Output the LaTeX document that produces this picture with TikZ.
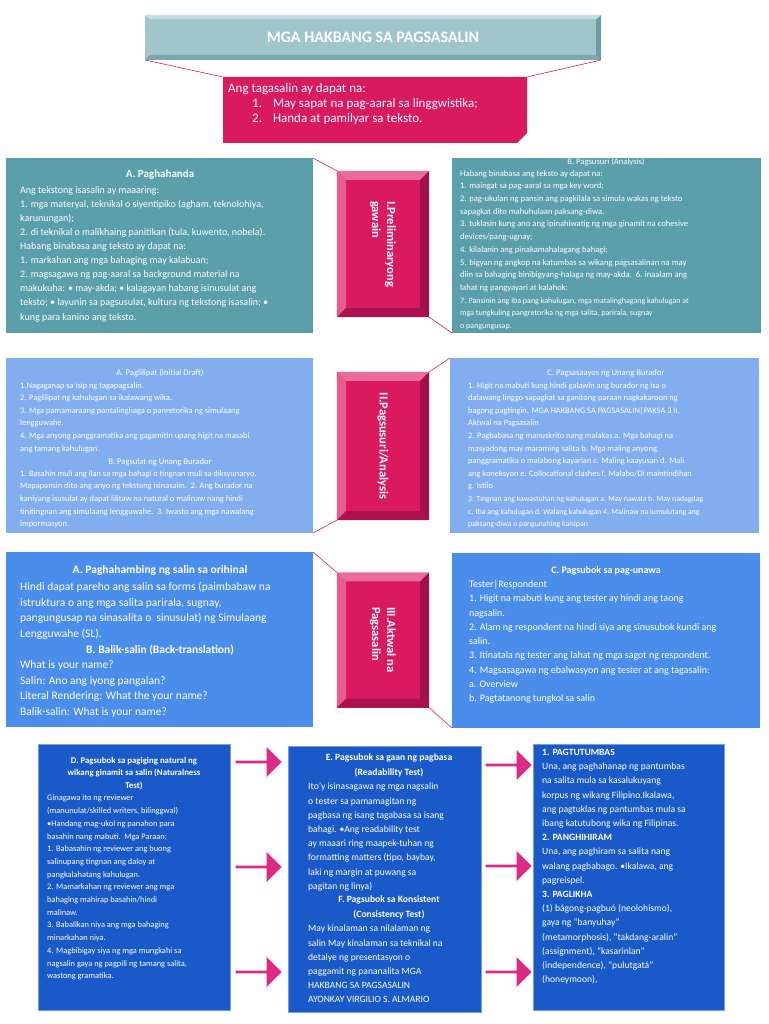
\documentclass[tikz,border=0pt]{standalone}
\usepackage{fontspec}
\setmainfont{Carlito}
\usetikzlibrary{shapes.arrows}
\definecolor{tealbox}{HTML}{5A9FAA}
\definecolor{titlec}{HTML}{A0C6CC}
\definecolor{titled}{HTML}{6E9AA2}
\definecolor{pinkc}{HTML}{DA1A5F}
\definecolor{pinkl}{HTML}{EA6C98}
\definecolor{pinkd}{HTML}{A0104A}
\definecolor{rowtwo}{HTML}{82AEF0}
\definecolor{rowthree}{HTML}{4B8DEA}
\definecolor{rowfour}{HTML}{1A5AC8}
\definecolor{arrowc}{HTML}{DD2A85}
\tikzset{
  panel/.style={anchor=north west, inner sep=0pt, outer sep=0pt},
  txt/.style={anchor=north west, inner sep=0pt, align=left, text=white},
  hd/.style={anchor=north, inner sep=0pt, align=center, text=white, font=#1},
  conn/.style={draw=pinkc, line width=0.6pt},
  pinkbox/.style={minimum width=92pt, inner sep=0pt, fill=pinkc},
  vtext/.style={rotate=-90, text=white, align=left, font={\fontsize{12.5}{15}\selectfont\bfseries}},
  arr/.style={single arrow, fill=arrowc, minimum height=46pt, minimum width=30pt, single arrow head extend=2pt, inner sep=0pt, shape border rotate=0}
}
\newcommand\bevelbox[2]{%
  \fill[pinkl] (#1.north west) -- (#1.north east) -- ([shift={(-#2,#2)}]#1.north east) -- ([shift={(#2,#2)}]#1.north west) -- cycle;
  \fill[pinkl!80!pinkc] (#1.north west) -- ([shift={(#2,#2)}]#1.north west) -- ([shift={(#2,-#2)}]#1.south west) -- (#1.south west) -- cycle;
  \fill[pinkd] (#1.north east) -- (#1.south east) -- ([shift={(-#2,-#2)}]#1.south east) -- ([shift={(-#2,#2)}]#1.north east) -- cycle;
  \fill[pinkd!85!pinkc] (#1.south west) -- (#1.south east) -- ([shift={(-#2,-#2)}]#1.south east) -- ([shift={(#2,-#2)}]#1.south west) -- cycle;
}
\begin{document}
\begin{tikzpicture}[x=1pt,y=-1pt]
\useasboundingbox[fill=white] (0,0) rectangle (768,1024);

% title
\node[panel, fill=titlec, minimum width=456pt, minimum height=45pt] (title) at (145,15) {};
\fill[titled] (title.north east) -- (title.south east) -- ([shift={(-5,-5)}]title.south east) -- ([shift={(-5,5)}]title.north east) -- cycle;
\fill[titled!70!titlec] (title.south west) -- (title.south east) -- ([shift={(-5,-5)}]title.south east) -- ([shift={(5,-5)}]title.south west) -- cycle;
\fill[titlec!60!white] (title.north west) -- (title.north east) -- ([shift={(-5,4)}]title.north east) -- ([shift={(5,4)}]title.north west) -- cycle;
\node[text=white, font={\fontsize{16}{18}\selectfont\bfseries}] (titletext) at (title.center) {MGA HAKBANG SA PAGSASALIN};

% pink main box
\node[panel, minimum width=304pt, minimum height=66pt] (main) at (223,77) {};
\fill[pinkc] (main.north west) -- (main.north east) -- ([shift={(0,-10)}]main.south east) -- ([shift={(-10,0)}]main.south east) -- (main.south west) -- cycle;
\node[txt, font={\fontsize{13}{15}\selectfont}] (maintext) at (228,83) {Ang tagasalin ay dapat na:\\
\hspace*{24pt}1.\hspace{11pt}May sapat na pag-aaral sa linggwistika;\\
\hspace*{24pt}2.\hspace{11pt}Handa at pamilyar sa teksto.};
\draw[conn] (title.south west) -- (main.north west);
\draw[conn] (title.south east) -- (main.north east);

% ---------- row 1
\node[panel, fill=tealbox, minimum width=307pt, minimum height=175pt] (boxA) at (6,158) {};
\node[panel, fill=tealbox, minimum width=309pt, minimum height=175pt] (boxB) at (452,158) {};
\node[pinkbox, minimum height=146pt] (p1) at (383,244) {};
\bevelbox{p1}{9}
\node[vtext] (p1t) at (p1.center) {I.Preliminaryong\\gawain};
\draw[conn] (boxA.north east) -- (p1.north west);
\draw[conn] (p1.south east) -- (boxB.south west);

\node[hd={\fontsize{11}{13}\selectfont\bfseries}] (hA) at (160,170) {A. Paghahanda};
\node[txt, font={\fontsize{10}{14.1}\selectfont}] (tA) at (20,186) {Ang tekstong isasalin ay maaaring:\\
1. mga materyal, teknikal o siyentipiko (agham, teknolohiya,\\
karunungan);\\
2. di teknikal o malikhaing panitikan (tula, kuwento, nobela).\\
Habang binabasa ang teksto ay dapat na:\\
1. markahan ang mga bahaging may kalabuan;\\
2. magsagawa ng pag-aaral sa background material na\\
makukuha: • may-akda; • kalagayan habang isinusulat ang\\
teksto; • layunin sa pagsusulat, kultura ng tekstong isasalin; •\\
kung para kanino ang teksto.};

\node[hd={\fontsize{8.6}{10}\selectfont}] (hB) at (606,158.5) {B. Pagsusuri (Analysis)};
\node[txt, font={\fontsize{8.6}{12.7}\selectfont}] (tB) at (460,170) {Habang binabasa ang teksto ay dapat na:\\
1. maingat sa pag-aaral sa mga key word;\\
2. pag-ukulan ng pansin ang pagkilala sa simula wakas ng teksto\\
sapagkat dito mahuhulaan paksang-diwa.\\
3. tuklasin kung ano ang ipinahiwatig ng mga ginamit na cohesive\\
devices/pang-ugnay;\\
4. kilalanin ang pinakamahalagang bahagi;\\
5. bigyan ng angkop na katumbas sa wikang pagsasalinan na may\\
diin sa bahaging binibigyang-halaga ng may-akda.\ \ 6. inaalam ang\\
lahat ng pangyayari at kalahok;\\
{\fontsize{8}{12.5}\selectfont 7. Pansinin ang iba pang kahulugan, mga matalinghagang kahulugan at}\\
{\fontsize{8}{12.5}\selectfont mga tungkuling pangretorika ng mga salita, parirala, sugnay}\\
{\fontsize{8}{12.5}\selectfont o pangungusap.}};

% ---------- row 2
\node[panel, fill=rowtwo, minimum width=307pt, minimum height=175pt] (boxC) at (6,358) {};
\node[panel, fill=rowtwo, minimum width=309pt, minimum height=175pt] (boxD) at (450,358) {};
\node[pinkbox, minimum height=148pt] (p2) at (383,446) {};
\bevelbox{p2}{9}
\node[vtext] (p2t) at (p2.center) {II.Pagsusuri/Analysis};
\draw[conn] (p2.north east) -- (boxD.north west);
\draw[conn] (boxC.south east) -- (p2.south west);

\node[hd={\fontsize{8.6}{10}\selectfont}] (hC) at (160,369) {A. Paglilipat (Initial Draft)};
\node[txt, font={\fontsize{8.4}{12.6}\selectfont}] (tC) at (20,382) {1.Nagaganap sa isip ng tagapagsalin.\\
2. Paglilipat ng kahulugan sa ikalawang wika.\\
3. Mga pamamaraang pantalinghaga o panretorika ng simulaang\\
lengguwahe.\\
4. Mga anyong panggramatika ang gagamitin upang higit na masabi\\
ang tamang kahulugan.\\[12.6pt]
1. Basahin muli ang ilan sa mga bahagi o tingnan muli sa diksyunaryo.\\
Mapapansin dito ang anyo ng tekstong isinasalin.\ \ 2. Ang burador na\\
kaniyang isusulat ay dapat lilitaw na natural o malinaw nang hindi\\
tinitingnan ang simulaang lengguwahe.\ \ 3. Iwasto ang mga nawalang\\
impormasyon.};
\node[hd={\fontsize{8.6}{10}\selectfont}] (hC2) at (160,458) {B. Pagsulat ng Unang Burador};

\node[hd={\fontsize{8.6}{10}\selectfont}] (hD) at (606,369) {C. Pagsasaayos ng Unang Burador};
\node[txt, font={\fontsize{8.4}{12.6}\selectfont}] (tD) at (468,382) {1. Higit na mabuti kung hindi galawin ang burador ng isa o\\
dalawang linggo sapagkat sa ganitong paraan nagkakaroon ng\\
bagong pagtingin. MGA HAKBANG SA PAGSASALIN|PAKSA 3 II.\\
Aktwal na Pagsasalin\\
2. Pagbabasa ng manuskrito nang malakas a. Mga bahagi na\\
masyadong may maraming salita b. Mga maling anyong\\
panggramatika o malabong kayarian c. Maling kaayusan d. Mali\\
ang koneksyon e. Collocational clashes f. Malabo/Di maintindihan\\
g. Istilo\\
{\fontsize{7.8}{12.6}\selectfont 3. Tingnan ang kawastuhan ng kahulugan a. May nawala b. May nadagdag}\\
{\fontsize{7.8}{12.6}\selectfont c. Iba ang kahulugan d. Walang kahulugan 4. Malinaw na lumulutang ang}\\
{\fontsize{7.8}{12.6}\selectfont paksang-diwa o pangunahing kaisipan}};

% ---------- row 3
\node[panel, fill=rowthree, minimum width=307pt, minimum height=175pt] (boxE) at (6,552) {};
\node[panel, fill=rowthree, minimum width=308pt, minimum height=175pt] (boxF) at (452,553) {};
\node[pinkbox, minimum height=135pt] (p3) at (383,640) {};
\bevelbox{p3}{9}
\node[vtext] (p3t) at (p3.center) {III.Aktwal na\\Pagsasalin};
\draw[conn] (boxE.north east) -- (p3.north west);
\draw[conn] (p3.south east) -- (boxF.south west);

\node[hd={\fontsize{11.5}{13}\selectfont\bfseries}] (hE) at (160,565) {A. Paghahambing ng salin sa orihinal};
\node[txt, font={\fontsize{11.5}{15.6}\selectfont}] (tE) at (20,582) {Hindi dapat pareho ang salin sa forms (paimbabaw na\\
istruktura o ang mga salita parirala, sugnay,\\
pangungusap na sinasalita o\ \ sinusulat) ng Simulaang\\
Lengguwahe (SL).\\[15.6pt]
What is your name?\\
Salin: Ano ang iyong pangalan?\\
Literal Rendering: What the your name?\\
Balik-salin: What is your name?};
\node[hd={\fontsize{11.5}{13}\selectfont\bfseries}] (hE2) at (160,645) {B. Balik-salin (Back-translation)};

\node[hd={\fontsize{10}{12}\selectfont\bfseries}] (hF) at (606,566) {C. Pagsubok sa pag-unawa};
\node[txt, font={\fontsize{10}{14.3}\selectfont}] (tF) at (469,580) {Tester|Respondent\\
1. Higit na mabuti kung ang tester ay hindi ang taong\\
nagsalin.\\
2. Alam ng respondent na hindi siya ang sinusubok kundi ang\\
salin.\\
3. Itinatala ng tester ang lahat ng mga sagot ng respondent.\\
4. Magsasagawa ng ebalwasyon ang tester at ang tagasalin:\\
a. Overview\\
b. Pagtatanong tungkol sa salin};

% ---------- row 4
\node[panel, fill=rowfour, draw=rowfour!60!white, line width=0.8pt, minimum width=192pt, minimum height=266pt] (boxG) at (38,744) {};
\node[panel, fill=rowfour, draw=rowfour!60!white, line width=0.8pt, minimum width=193pt, minimum height=266pt] (boxH) at (288,746) {};
\node[panel, fill=rowfour, draw=rowfour!60!white, line width=0.8pt, minimum width=191pt, minimum height=266pt] (boxI) at (533,744) {};

\node[arr] (a1) at (258,762) {};
\node[arr] (a2) at (258,867) {};
\node[arr] (a3) at (258,972) {};
\node[arr] (a4) at (508,765) {};
\node[arr] (a5) at (508,866) {};
\node[arr] (a6) at (508,972) {};

\node[hd={\fontsize{8.8}{12.4}\selectfont\bfseries}] (hG) at (134,757) {D. Pagsubok sa pagiging natural ng\\wikang ginamit sa salin (Naturalness\\Test)};
\node[txt, font={\fontsize{8.4}{12.7}\selectfont}] (tG) at (47,795) {Ginagawa ito ng reviewer\\
(manunulat/skilled writers, bilinggwal)\\
•Handang mag-ukol ng panahon para\\
basahin nang mabuti.\ \ Mga Paraan:\\
1. Babasahin ng reviewer ang buong\\
salinupang tingnan ang daloy at\\
pangkalahatang kahulugan.\\
2. Mamarkahan ng reviewer ang mga\\
bahaging mahirap basahin/hindi\\
malinaw.\\
3. Babalikan niya ang mga bahaging\\
minarkahan niya.\\
4. Magbibigay siya ng mga mungkahi sa\\
nagsalin gaya ng pagpili ng tamang salita,\\
wastong gramatika.};

\node[hd={\fontsize{9.6}{14.2}\selectfont\bfseries}] (hH) at (389,754) {E. Pagsubok sa gaan ng pagbasa\\(Readability Test)};
\node[txt, font={\fontsize{9.6}{14.2}\selectfont}] (tH) at (308,783) {Ito’y isinasagawa ng mga nagsalin\\
o tester sa pamamagitan ng\\
pagbasa ng isang tagabasa sa isang\\
bahagi. •Ang readability test\\
ay maaari ring maapek-tuhan ng\\
formatting matters (tipo, baybay,\\
laki ng margin at puwang sa\\
pagitan ng linya)\\[28.4pt]
May kinalaman sa nilalaman ng\\
salin May kinalaman sa teknikal na\\
detalye ng presentasyon o\\
paggamit ng pananalita MGA\\
HAKBANG SA PAGSASALIN\\
AYONKAY VIRGILIO S. ALMARIO};
\node[hd={\fontsize{9.6}{14.2}\selectfont\bfseries}] (hH2) at (389,896) {F. Pagsubok sa Konsistent\\(Consistency Test)};

\node[txt, font={\fontsize{9.6}{14.2}\selectfont}] (tI) at (542,749) {\textbf{1. PAGTUTUMBAS}\\
Una, ang paghahanap ng pantumbas\\
na salita mula sa kasalukuyang\\
korpus ng wikang Filipino.Ikalawa,\\
ang pagtuklas ng pantumbas mula sa\\
ibang katutubong wika ng Filipinas.\\
\textbf{2. PANGHIHIRAM}\\
Una, ang paghiram sa salita nang\\
walang pagbabago. •Ikalawa, ang\\
pagreispel.\\
\textbf{3. PAGLIKHA}\\
(1) bágong-pagbuó (neolohismo),\\
gaya ng “banyuhay”\\
(metamorphosis), “takdang-aralin”\\
(assignment), “kasarinlan”\\
(independence), “pulutgatá”\\
(honeymoon),};
\end{tikzpicture}
\end{document}
